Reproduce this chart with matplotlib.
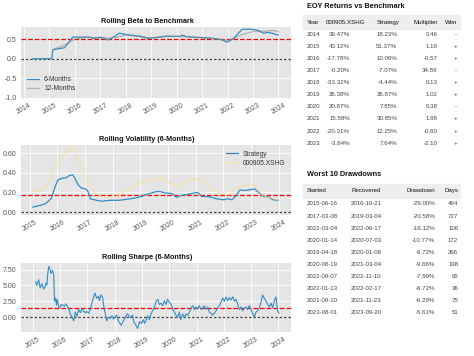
import matplotlib
matplotlib.use("Agg")
import matplotlib.pyplot as plt
from matplotlib.ticker import FormatStrFormatter
from matplotlib.patches import Rectangle

plt.rcParams['font.family'] = ['Liberation Sans', 'DejaVu Sans']

STRAT_COLOR = '#348dc1'
BENCH_COLOR = '#fedd78'
BENCH_NAME = '000905.XSHG'

# ---------------- data ----------------
beta6_x = [2014.36, 2015.10, 2015.14, 2015.60, 2015.93, 2016.30, 2016.57, 2016.75, 2017.03,
           2017.29, 2017.45, 2017.75, 2018.00, 2018.20, 2018.60, 2018.86, 2019.20, 2019.57,
           2019.90, 2020.15, 2020.22, 2020.35, 2020.55, 2021.00, 2021.40, 2021.80, 2021.98,
           2022.24, 2022.43, 2022.57, 2022.96, 2023.20, 2023.41, 2023.60, 2023.80, 2023.99]
beta6_y = [0.0, 0.0, 0.23, 0.28, 0.55, 0.55, 0.55, 0.52, 0.55,
           0.48, 0.52, 0.65, 0.62, 0.60, 0.57, 0.52, 0.54, 0.575,
           0.57, 0.57, 0.60, 0.57, 0.55, 0.54, 0.52, 0.48, 0.42,
           0.52, 0.65, 0.75, 0.75, 0.72, 0.65, 0.67, 0.64, 0.60]
beta12_x = [2015.14, 2015.60, 2016.00, 2016.50, 2017.00, 2017.50, 2018.00, 2018.50, 2019.00,
            2019.50, 2020.00, 2020.50, 2021.00, 2021.50, 2022.00, 2022.30, 2022.50, 2022.80,
            2023.10, 2023.50, 2023.80, 2023.99]
beta12_y = [0.23, 0.35, 0.50, 0.55, 0.53, 0.53, 0.60, 0.57, 0.53,
            0.56, 0.57, 0.56, 0.53, 0.51, 0.47, 0.52, 0.60, 0.66,
            0.70, 0.70, 0.72, 0.69]
beta_mean = 0.50

vol_x = [2015.12, 2015.48, 2015.60, 2015.79, 2015.90, 2016.03, 2016.20, 2016.33, 2016.42,
         2016.55, 2016.63, 2016.75, 2016.87, 2017.03, 2017.11, 2017.20, 2017.42, 2017.60,
         2017.90, 2018.26, 2018.62, 2018.87, 2019.05, 2019.23, 2019.53, 2019.71, 2019.89,
         2020.13, 2020.31, 2020.49, 2020.73, 2020.97, 2021.09, 2021.21, 2021.51, 2021.76,
         2022.00, 2022.17, 2022.32, 2022.48, 2022.60, 2022.78, 2023.02, 2023.14, 2023.32,
         2023.44, 2023.62, 2023.80, 2023.99]
vol_strategy = [0.05, 0.075, 0.09, 0.14, 0.24, 0.33, 0.345, 0.35, 0.37,
                0.38, 0.35, 0.28, 0.245, 0.235, 0.21, 0.135, 0.12, 0.11,
                0.12, 0.12, 0.135, 0.145, 0.16, 0.18, 0.205, 0.21, 0.195,
                0.19, 0.15, 0.17, 0.18, 0.195, 0.20, 0.16, 0.155, 0.135,
                0.125, 0.135, 0.125, 0.17, 0.225, 0.22, 0.23, 0.235, 0.19,
                0.16, 0.155, 0.125, 0.12]
volb_x = [2015.12, 2015.48, 2015.65, 2015.85, 2016.03, 2016.20, 2016.38, 2016.50, 2016.63,
          2016.81, 2016.99, 2017.17, 2017.35, 2017.50, 2017.80, 2018.10, 2018.40, 2018.70,
          2019.00, 2019.17, 2019.71, 2019.89, 2020.27, 2020.49, 2020.85, 2021.09, 2021.33,
          2021.57, 2021.76, 2022.00, 2022.24, 2022.42, 2022.66, 2023.02, 2023.20, 2023.38,
          2023.62, 2023.99]
vol_benchmark = [0.21, 0.23, 0.28, 0.41, 0.515, 0.57, 0.63, 0.67, 0.62,
                 0.50, 0.38, 0.26, 0.195, 0.17, 0.15, 0.16, 0.20, 0.25,
                 0.29, 0.31, 0.345, 0.33, 0.26, 0.29, 0.33, 0.34, 0.29,
                 0.24, 0.205, 0.18, 0.175, 0.24, 0.26, 0.29, 0.26, 0.175,
                 0.15, 0.125]
vol_mean = 0.17

sharpe_x = [2015.10, 2015.15, 2015.22, 2015.27, 2015.34, 2015.40, 2015.45, 2015.49, 2015.52,
            2015.55, 2015.59, 2015.64, 2015.67, 2015.73, 2015.77, 2015.80, 2015.84, 2015.87,
            2015.90, 2015.95, 2016.00, 2016.04, 2016.10, 2016.16, 2016.22, 2016.28, 2016.32,
            2016.37, 2016.44, 2016.50, 2016.56, 2016.62, 2016.68, 2016.75, 2016.81, 2016.87,
            2016.93, 2016.98, 2017.05, 2017.10, 2017.16, 2017.22, 2017.28, 2017.34, 2017.41,
            2017.44, 2017.50, 2017.56, 2017.61, 2017.66, 2017.71, 2017.77, 2017.83, 2017.90,
            2017.96, 2018.02, 2018.08, 2018.14, 2018.24, 2018.32, 2018.40, 2018.47, 2018.53,
            2018.59, 2018.65, 2018.71, 2018.77, 2018.84, 2018.92, 2018.99, 2019.05, 2019.10,
            2019.15, 2019.21, 2019.27, 2019.33, 2019.45, 2019.52, 2019.58, 2019.64, 2019.70,
            2019.76, 2019.82, 2019.88, 2019.94, 2020.01, 2020.07, 2020.13, 2020.19, 2020.25,
            2020.31, 2020.37, 2020.43, 2020.49, 2020.56, 2020.62, 2020.68, 2020.74, 2020.80,
            2020.86, 2020.92, 2020.98, 2021.04, 2021.10, 2021.17, 2021.23, 2021.29, 2021.35,
            2021.41, 2021.47, 2021.53, 2021.59, 2021.65, 2021.72, 2021.78, 2021.84, 2021.90,
            2021.96, 2022.02, 2022.08, 2022.14, 2022.20, 2022.26, 2022.33, 2022.39, 2022.45,
            2022.51, 2022.57, 2022.63, 2022.69, 2022.75, 2022.81, 2022.87, 2022.93, 2022.99,
            2023.06, 2023.12, 2023.18, 2023.24, 2023.30, 2023.36, 2023.42, 2023.48, 2023.55,
            2023.61, 2023.67, 2023.73, 2023.79, 2023.85, 2023.91, 2023.97, 2024.02]
sharpe_y = [5.6, 5.0, 5.9, 4.6, 5.3, 4.4, 4.8, 5.4, 5.1,
            6.8, 8.0, 7.5, 6.9, 7.4, 6.6, 2.5, 3.0, 1.9,
            2.8, 1.6, 1.5, 2.0, 1.9, 1.7, 2.1, 1.6, 1.4,
            0.5, 0.1, -0.6, 0.8, 0.1, 1.2, 0.7, 1.3, 0.9,
            0.7, 0.9, 0.6, 1.1, 2.2, 3.0, 3.8, 3.0, 3.3,
            2.6, 3.5, 3.1, 1.5, 0.5, -0.6, 0.0, -0.2, 0.2,
            -0.3, 0.1, 0.3, -0.6, -1.3, -0.6, 0.0, 0.5, 0.2,
            -0.1, 0.3, -0.8, -1.2, -1.8, -0.7, -1.0, -0.4, -1.0,
            -0.4, 0.2, -0.4, 0.5, 1.5, 2.5, 2.8, 2.0, 2.2,
            1.8, 2.6, 2.0, 2.8, 2.3, 2.0, 1.2, 0.8, 0.3,
            0.0, 0.8, -0.4, 0.5, 0.0, 0.5, 0.3, 0.8, 1.5,
            1.8, 1.2, 1.6, 1.3, 1.8, 1.2, 1.5, 1.8, 1.2,
            1.6, 0.8, 0.6, 0.3, 0.6, 1.0, 1.5, 1.8, 2.4,
            3.0, 2.5, 3.2, 2.6, 3.1, 2.7, 3.2, 2.5, 2.8,
            2.0, 1.2, 1.6, 1.0, 1.4, 1.6, 1.2, 1.8, 1.3,
            0.5, 0.0, 0.8, 1.0, 1.5, 2.3, 3.5, 3.0, 2.5,
            2.0, 1.6, 2.2, 1.5, 2.5, 3.2, 1.0, 0.6]
sharpe_mean = 1.5

beta_years = [2014, 2015, 2016, 2017, 2018, 2019, 2020, 2021, 2022, 2023, 2024]
other_years = [2015, 2016, 2017, 2018, 2019, 2020, 2021, 2022, 2023, 2024]

eoy_year = ['2014', '2015', '2016', '2017', '2018', '2019', '2020', '2021', '2022', '2023']
eoy_bench = [39.47, 43.12, -17.78, -0.20, -33.32, 26.38, 20.87, 15.58, -20.31, -3.64]
eoy_strategy = [18.23, 51.37, 10.06, -7.07, -4.44, 26.87, 7.85, 30.85, 12.25, 7.64]
eoy_multiplier = [0.46, 1.19, -0.57, 34.59, 0.13, 1.02, 0.38, 1.98, -0.60, -2.10]
eoy_won = ['-', '+', '+', '-', '+', '+', '-', '+', '+', '+']

dd_started = ['2015-06-16', '2017-03-08', '2022-03-04', '2020-01-14', '2019-04-18',
              '2020-08-19', '2022-09-07', '2022-01-13', '2021-09-10', '2023-08-01']
dd_recovered = ['2016-10-21', '2019-03-04', '2022-06-17', '2020-07-03', '2020-01-08',
                '2021-03-04', '2022-11-10', '2022-02-17', '2021-11-23', '2023-09-20']
dd_drawdown = [-29.00, -20.58, -16.12, -10.77, -9.72, -9.66, -7.99, -6.72, -6.29, -5.61]
dd_days = [494, 727, 106, 172, 266, 198, 65, 36, 75, 51]

# ---------------- layout ----------------
W, H = 474, 356
fig = plt.figure(figsize=(W / 100, H / 100), dpi=100)


def box(l, t, r, b):
    return [l / W, 1 - b / H, (r - l) / W, (b - t) / H]


def fx(x):
    return x / W


def fy(y):
    return 1 - y / H


def style(ax, title, years, yticks, fmt):
    ax.set_facecolor('#e5e5e5')
    for s in ax.spines.values():
        s.set_visible(False)
    ax.grid(True, color='white', lw=0.6)
    ax.set_axisbelow(True)
    ax.tick_params(length=0, labelsize=5, labelcolor='#555555')
    ax.tick_params(axis='y', pad=3)
    ax.tick_params(axis='x', pad=2.5)
    ax.set_title(title, fontsize=5.2, fontweight='bold', x=0.468, pad=3.2, color='#111111')
    ax.set_yticks(yticks)
    ax.yaxis.set_major_formatter(FormatStrFormatter(fmt))
    ax.set_xticks(years)
    ax.set_xticklabels([str(y) for y in years], rotation=30)


zero_style = dict(color='#444444', lw=0.9, ls=(0, (2, 1.5)), zorder=2)
mean_style = dict(color='red', lw=0.9, ls='--', zorder=2)

# Rolling beta
ax1 = fig.add_axes(box(20.7, 27.3, 290.7, 98))
ax1.plot(beta6_x, beta6_y, color=STRAT_COLOR, lw=0.9, label='6-Months', zorder=3)
ax1.plot(beta12_x, beta12_y, color='gray', alpha=0.5, lw=0.9, label='12-Months', zorder=3)
ax1.axhline(beta_mean, **mean_style)
ax1.axhline(0, **zero_style)
style(ax1, 'Rolling Beta to Benchmark', beta_years, [-1.0, -0.5, 0.0, 0.5], '%.1f')
ax1.set_xlim(2013.88, 2024.48)
ax1.set_ylim(-1.0, 0.8)
ax1.legend(loc='lower left', fontsize=4.8, frameon=False, handlelength=1.8,
           borderaxespad=0.5, labelspacing=0.3, labelcolor='#333333')

# Rolling volatility
ax2 = fig.add_axes(box(20.7, 145.3, 290.7, 215))
ax2.plot(vol_x, vol_strategy, color=STRAT_COLOR, lw=0.9, label='Strategy', zorder=3)
ax2.plot(volb_x, vol_benchmark, color=BENCH_COLOR, alpha=0.55, lw=0.9, label=BENCH_NAME, zorder=3)
ax2.axhline(vol_mean, **mean_style)
ax2.axhline(0, **zero_style)
style(ax2, 'Rolling Volatility (6-Months)', other_years, [0.0, 0.2, 0.4, 0.6], '%.2f')
ax2.set_xlim(2014.68, 2024.44)
ax2.set_ylim(-0.03, 0.68)
ax2.legend(loc='upper right', fontsize=4.8, frameon=False, handlelength=1.8,
           borderaxespad=0.4, labelspacing=0.3, labelcolor='#333333')

# Rolling sharpe
ax3 = fig.add_axes(box(20.7, 263.3, 290.7, 332.3))
ax3.plot(sharpe_x, sharpe_y, color=STRAT_COLOR, lw=0.8, zorder=3)
ax3.axhline(sharpe_mean, **mean_style)
ax3.axhline(0, **zero_style)
style(ax3, 'Rolling Sharpe (6-Months)', other_years, [0.0, 2.5, 5.0, 7.5], '%.2f')
ax3.set_xlim(2014.56, 2024.45)
ax3.set_ylim(-2.4, 8.5)

# ---------------- tables ----------------
TFS = 4.4
body = dict(fontsize=TFS, color='#444444', va='center')
head = dict(fontsize=TFS, color='#111111', va='center')
ttl = dict(fontsize=5.3, color='#111111', va='center', fontweight='bold')

fig.text(fx(306.7), fy(7), 'EOY Returns vs Benchmark', ha='left', **ttl)
fig.patches.append(Rectangle((fx(303), fy(29)), (460 - 303) / W, 14 / H,
                             transform=fig.transFigure, color='#eeeeee', zorder=0))
fig.text(fx(306.7), fy(22.3), 'Year', ha='left', **head)
fig.text(fx(346), fy(22.3), BENCH_NAME, ha='center', **head)
fig.text(fx(399.3), fy(22.3), 'Strategy', ha='right', **head)
fig.text(fx(437.7), fy(22.3), 'Multiplier', ha='right', **head)
fig.text(fx(457), fy(22.3), 'Won', ha='right', **head)
for i in range(len(eoy_year)):
    y = fy(34.3 + 12.1 * i)
    fig.text(fx(306.7), y, eoy_year[i], ha='left', **body)
    fig.text(fx(350), y, f'{eoy_bench[i]:.2f}%', ha='right', **body)
    fig.text(fx(397.3), y, f'{eoy_strategy[i]:.2f}%', ha='right', **body)
    fig.text(fx(437.7), y, f'{eoy_multiplier[i]:.2f}', ha='right', **body)
    fig.text(fx(457), y, eoy_won[i], ha='right', **body)

fig.text(fx(306.7), fy(174), 'Worst 10 Drawdowns', ha='left', **ttl)
fig.patches.append(Rectangle((fx(303), fy(197.5)), (460 - 303) / W, 13.5 / H,
                             transform=fig.transFigure, color='#eeeeee', zorder=0))
fig.text(fx(306.7), fy(190.7), 'Started', ha='left', **head)
fig.text(fx(351), fy(190.7), 'Recovered', ha='left', **head)
fig.text(fx(435), fy(190.7), 'Drawdown', ha='right', **head)
fig.text(fx(458.3), fy(190.7), 'Days', ha='right', **head)
for i in range(len(dd_started)):
    y = fy(204 + 12.1 * i)
    fig.text(fx(306.7), y, dd_started[i], ha='left', **body)
    fig.text(fx(351), y, dd_recovered[i], ha='left', **body)
    fig.text(fx(435), y, f'{dd_drawdown[i]:.2f}%', ha='right', **body)
    fig.text(fx(458.3), y, str(dd_days[i]), ha='right', **body)

fig.savefig('out.png', dpi=100, facecolor='white')
